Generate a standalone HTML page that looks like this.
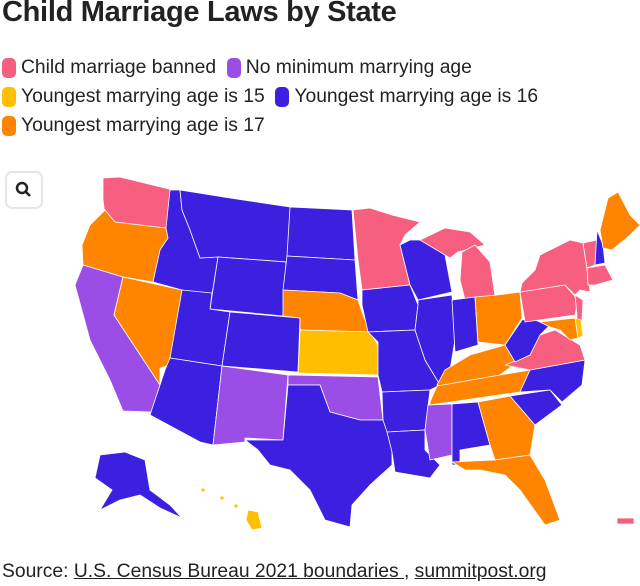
<!DOCTYPE html>
<html><head><meta charset="utf-8"><style>
body{margin:0;width:640px;height:586px;background:#fff;font-family:"Liberation Sans",sans-serif;color:#222;position:relative;overflow:hidden}
h1{position:absolute;left:2px;top:-4px;margin:0;font-size:29px;font-weight:bold;letter-spacing:-0.3px}
.lg{position:absolute;font-size:19.3px;display:flex;align-items:center}
.sw{width:14px;height:20px;border-radius:5px;margin-right:5px;display:inline-block}
.src{position:absolute;left:2px;top:561px;font-size:19.3px}
.src u{text-decoration:underline}
.btn{position:absolute;left:5px;top:171px;width:38px;height:38px;border:2px solid #e6e6e6;border-radius:7px;box-sizing:border-box}
svg{position:absolute;left:0;top:0}
</style></head><body>
<h1>Child Marriage Laws by State</h1>
<div class="lg" style="left:2px;top:57px"><span class="sw" style="background:#f65f80"></span>Child marriage banned&nbsp;&nbsp;<span class="sw" style="background:#9b4ee6"></span>No minimum marrying age</div>
<div class="lg" style="left:2px;top:86px"><span class="sw" style="background:#ffbf00"></span>Youngest marrying age is 15&nbsp;&nbsp;<span class="sw" style="background:#3b20e0"></span>Youngest marrying age is 16</div>
<div class="lg" style="left:2px;top:115px"><span class="sw" style="background:#ff8500"></span>Youngest marrying age is 17</div>
<div class="btn"><svg width="34" height="34" style="left:0;top:0"><circle cx="15" cy="15" r="5" fill="none" stroke="#222" stroke-width="2.5"/><line x1="19" y1="19" x2="23" y2="23" stroke="#222" stroke-width="2.5"/></svg></div>
<svg width="640" height="586" style="pointer-events:none">
<g stroke="#fff" stroke-width="0.8" stroke-linejoin="round">
<polygon fill="#f65f80" points="103,178 120,177 173,190 166,228 140,226 115,222 105,215 103,200"/>
<polygon fill="#ff8500" points="105,210 115,222 166,228 168,238 160,250 153,282 123,277 83,265 82,245 90,225"/>
<polygon fill="#9b4ee6" points="83,265 123,277 114,315 160,385 153,412 123,411 110,380 90,340 75,285"/>
<polygon fill="#ff8500" points="123,277 182,290 170,365 160,368 160,385 114,315"/>
<polygon fill="#3b20e0" points="170,190 180,190 182,210 190,230 200,258 218,257 212,295 182,290 153,282 160,250 168,238 166,228"/>
<polygon fill="#3b20e0" points="180,190 230,198 290,207 288,262 218,257 200,258 190,230 182,210"/>
<polygon fill="#3b20e0" points="218,257 286,262 283,316 210,309"/>
<polygon fill="#3b20e0" points="182,290 212,293 210,309 230,312 222,366 170,358"/>
<polygon fill="#3b20e0" points="230,312 300,318 298,372 222,366"/>
<polygon fill="#3b20e0" points="170,358 222,366 213,445 200,442 150,415 155,400 160,385 165,370"/>
<polygon fill="#9b4ee6" points="222,366 288,375 283,440 245,438 245,442 213,445"/>
<polygon fill="#3b20e0" points="290,207 352,210 355,260 287,256"/>
<polygon fill="#3b20e0" points="287,256 355,260 358,300 340,293 283,290"/>
<polygon fill="#ff8500" points="283,290 340,293 358,300 362,312 370,332 300,330 300,318 283,316"/>
<polygon fill="#ffbf00" points="300,330 370,332 378,345 378,375 298,373"/>
<polygon fill="#9b4ee6" points="288,375 378,377 383,420 360,420 330,412 320,385 288,385"/>
<polygon fill="#3b20e0" points="288,385 320,385 330,412 360,420 383,420 392,440 392,465 370,485 352,505 350,527 325,520 310,490 290,470 270,465 258,450 245,440 283,440"/>
<polygon fill="#f65f80" points="353,210 370,208 392,215 420,222 405,235 400,245 410,285 362,290 358,260"/>
<polygon fill="#3b20e0" points="362,290 410,285 418,305 415,330 368,332 362,305"/>
<polygon fill="#3b20e0" points="368,332 415,330 425,360 440,385 430,390 382,392 378,375 378,342"/>
<polygon fill="#3b20e0" points="382,392 430,390 425,430 387,432 383,420"/>
<polygon fill="#3b20e0" points="387,432 425,430 425,450 440,465 430,478 395,472 392,452"/>
<polygon fill="#3b20e0" points="400,245 410,240 425,240 445,255 452,292 418,300 410,285"/>
<polygon fill="#3b20e0" points="418,300 452,295 455,340 450,370 440,385 425,360 415,330 418,305"/>
<polygon fill="#f65f80" points="420,240 445,228 470,232 485,245 458,252 450,258"/>
<polygon fill="#f65f80" points="462,252 475,245 490,262 495,296 465,300 460,280"/>
<polygon fill="#3b20e0" points="452,300 475,297 478,345 455,352"/>
<polygon fill="#ff8500" points="475,297 497,295 520,292 522,318 505,345 478,342"/>
<polygon fill="#ff8500" points="437,385 445,370 470,355 505,345 520,360 500,375 440,387"/>
<polygon fill="#ff8500" points="430,402 437,386 500,375 530,370 520,392 430,405"/>
<polygon fill="#9b4ee6" points="428,405 452,404 452,455 430,460 425,430"/>
<polygon fill="#3b20e0" points="452,404 478,402 490,445 460,450 460,465 452,465"/>
<polygon fill="#ff8500" points="478,402 510,396 535,425 530,455 495,460 490,445"/>
<polygon fill="#ff8500" points="452,462 495,460 530,455 545,480 560,520 545,525 520,490 505,475 480,470 465,470"/>
<polygon fill="#3b20e0" points="510,396 550,390 562,405 535,425"/>
<polygon fill="#3b20e0" points="520,392 530,370 585,360 582,385 562,402 550,390"/>
<polygon fill="#f65f80" points="505,365 530,355 540,335 555,330 580,345 585,360 530,370"/>
<polygon fill="#3b20e0" points="505,345 522,320 530,318 540,322 550,325 540,335 530,355 515,362"/>
<polygon fill="#f65f80" points="520,292 565,285 578,300 575,315 525,322"/>
<polygon fill="#f65f80" points="522,283 535,270 540,255 560,245 570,240 583,243 588,275 590,292 580,290 575,295 565,285 520,292"/>
<polygon fill="#f65f80" points="575,295 583,300 582,320 575,330 577,315"/>
<polygon fill="#ff8500" points="540,322 575,318 578,338 570,340 560,330 550,327"/>
<polygon fill="#ffbf00" points="575,318 581,320 583,336 578,338"/>
<polygon fill="#f65f80" points="583,243 597,240 595,265 587,268"/>
<polygon fill="#3b20e0" points="597,230 603,245 605,263 595,265"/>
<polygon fill="#ff8500" points="608,198 618,192 630,215 640,225 630,235 612,250 603,248 600,230"/>
<polygon fill="#f65f80" points="587,268 605,265 613,280 595,285 588,285"/>
<polygon fill="#3b20e0" points="100,455 125,452 145,460 150,490 170,505 182,518 160,508 140,495 120,500 100,510 112,490 95,478"/>
<polygon fill="#ffbf00" points="248,510 258,512 262,528 252,530 246,520"/>
<circle cx="203" cy="490" r="2" fill="#ffbf00"/><circle cx="222" cy="498" r="2" fill="#ffbf00"/><circle cx="236" cy="506" r="2" fill="#ffbf00"/>
<polygon fill="#f65f80" points="617,518 634,518 634,524 617,524"/>
</g></svg>
<div class="src">Source: <u>U.S. Census Bureau 2021 boundaries </u>, <u>summitpost.org</u></div>
</body></html>
